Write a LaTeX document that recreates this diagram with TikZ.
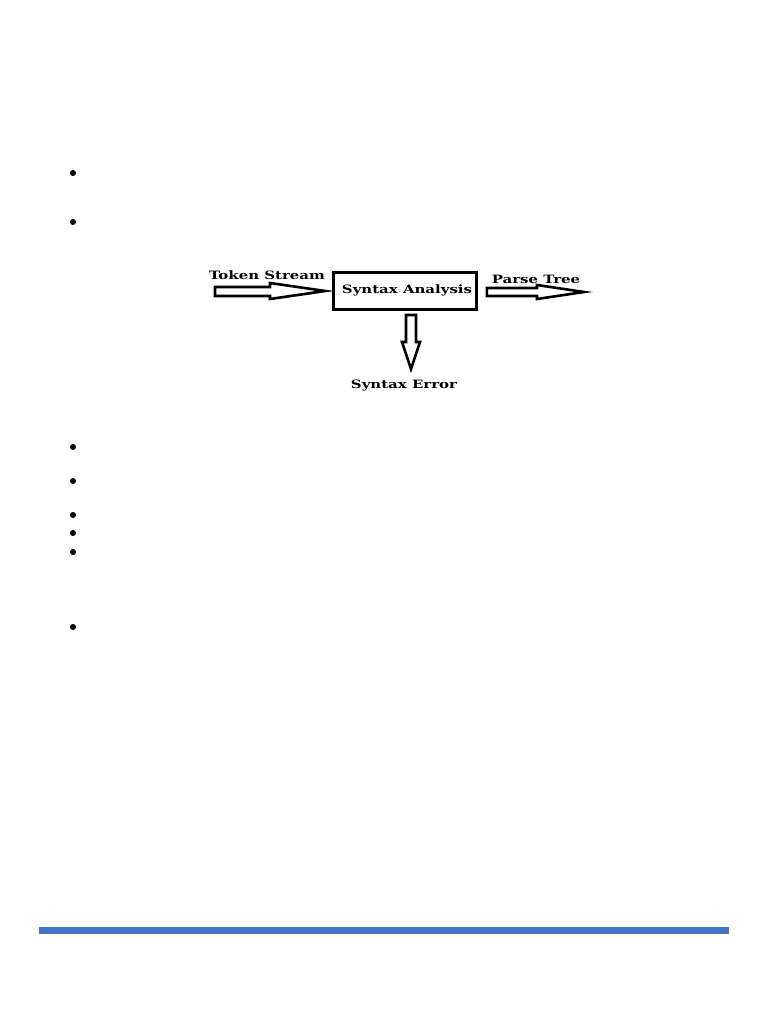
\documentclass[tikz,border=0pt]{standalone}
\usepackage{fontspec}
\newfontfamily\diafont{DejaVu Serif}
\definecolor{barblue}{HTML}{4472C4}
\newcommand{\widetxt}[1]{\scalebox{1.3}[1]{#1}}
\begin{document}
\begin{tikzpicture}[x=1pt,y=-1pt,
  lbl/.style={font=\diafont\bfseries\fontsize{11.5}{13}\selectfont, inner sep=0pt},
  blockarrow/.style={draw=black, line width=2.6pt, fill=white, line join=miter},
  bulletdot/.style={circle, fill=black, inner sep=0pt, minimum size=6pt},
  box/.style={draw=black, line width=2.6pt, minimum width=143pt, minimum height=37pt, inner sep=0pt}]
\useasboundingbox (0,0) rectangle (768,1024);
\fill[white] (0,0) rectangle (768,1024);
% bullets
\foreach \yy [count=\i] in {173,222,447,481,515,533,552,627}
  \node[bulletdot] (b\i) at (73,\yy) {};
% box
\node[box] (sa) at (405,291) {};
\node[lbl] (salbl) at (407,290) {\widetxt{Syntax Analysis}};
% labels
\node[lbl] (ts) at (267,275) {\widetxt{Token Stream}};
\node[lbl] (pt) at (536,279) {\widetxt{Parse Tree}};
\node[lbl] (se) at (404,386) {\widetxt{Syntax Error}};
% token stream arrow
\coordinate (tsTip) at ([xshift=-7pt]sa.west);
\draw[blockarrow] (215,287) -- (270,287) -- (270,283) -- (tsTip) -- (270,299) -- (270,296) -- (215,296) -- cycle;
% parse tree arrow
\coordinate (ptTail) at ([xshift=9pt]sa.east);
\draw[blockarrow] (ptTail |- 0,288) -- (537,288) -- (537,285) -- (584,292) -- (537,299) -- (537,296) -- (ptTail |- 0,296) -- cycle;
% syntax error arrow
\coordinate (seTail) at ([yshift=6pt]sa.south);
\draw[blockarrow] (406,315) -- (416,315) -- (416,342) -- (420,342) -- (411,369) -- (402,342) -- (406,342) -- cycle;
% bottom bar
\fill[barblue] (39,927) rectangle (729,934);
\end{tikzpicture}
\end{document}
